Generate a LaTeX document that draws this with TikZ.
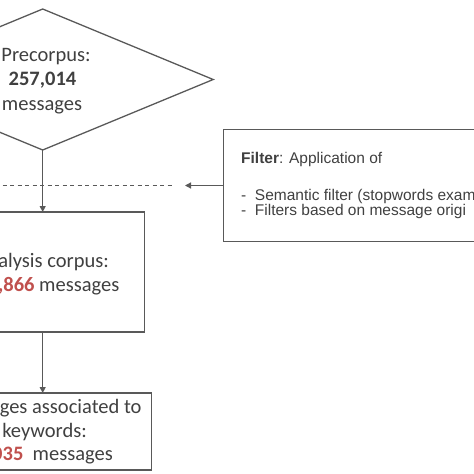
\documentclass[tikz,border=0pt]{standalone}
\usepackage{fontspec}
\setmainfont{Carlito}
\newfontfamily\arialf{Liberation Sans}
\usetikzlibrary{shapes.geometric,arrows.meta}
\definecolor{linegray}{HTML}{595959}
\definecolor{txtgray}{HTML}{404040}
\definecolor{numred}{HTML}{C0504D}
\begin{document}
\begin{tikzpicture}[x=1pt,y=-1pt,
  box/.style={draw=linegray, line width=1.3pt, rectangle, inner sep=0pt, outer sep=0pt},
  lbl/.style={anchor=base, text=txtgray, font=\fontsize{20.5}{24}\selectfont, inner sep=0pt},
  lblr/.style={lbl, anchor=base east},
  flbl/.style={anchor=base west, text=txtgray, font=\arialf\fontsize{15.5}{15}\selectfont, inner sep=0pt},
  arr/.style={draw=linegray, line width=1.2pt, -{Triangle[length=6pt,width=6pt]}},
  dashline/.style={draw=linegray, line width=1.2pt, dash pattern=on 4pt off 3.5pt}]
\useasboundingbox (0,0) rectangle (474,474);
\clip (0,0) rectangle (474,474);
% shapes
\node[diamond, draw=linegray, line width=1.3pt, minimum width=341pt, minimum height=141pt,
      inner sep=0pt, outer sep=0pt] (pre) at (42.7,79.5) {};
\node[box, minimum width=203.5pt, minimum height=120pt] (ana) at (42.7,272) {};
\node[box, minimum width=218pt, minimum height=77pt] (kw) at (42.7,431.5) {};
\node[box, minimum width=300pt, minimum height=112.4pt] (filt) at (373.3,185.5) {};
% texts
\node[lbl] (pre1) at (46,61) {Precorpus:};
\node[lbl] (pre2) at (42.5,85.5) {\textbf{257,014}};
\node[lbl] (pre3) at (42,110) {messages};
\node[lblr] (ana1) at (109,267) {alysis corpus:};
\node[lblr] (ana2) at (119.5,291) {\textcolor{numred}{\textbf{,866}} messages};
\node[lblr] (kw1) at (141.7,413) {ges associated to};
\node[lblr] (kw2) at (87,437) {keywords:};
\node[lblr] (kw3) at (113,460) {\textcolor{numred}{\textbf{035}}\ \ messages};
\node[flbl] (f1) at (241,163.3) {\textbf{Filter}: Application of};
\node[flbl] (f2) at (241,200) {-\ \ Semantic filter (stopwords exam};
\node[flbl] (f3) at (241,215) {-\ \ Filters based on message origi};
% connectors
\draw[arr] (pre.south) -- (ana.north);
\draw[arr] (ana.south) -- (kw.north);
\coordinate (ftip) at (185,185.5);
\draw[arr] (ftip -| filt.west) -- (ftip);
\coordinate (dl) at (-5,185.5);
\coordinate (dr) at (172,185.5);
\draw[dashline] (dl) -- (dr);
\end{tikzpicture}
\end{document}
